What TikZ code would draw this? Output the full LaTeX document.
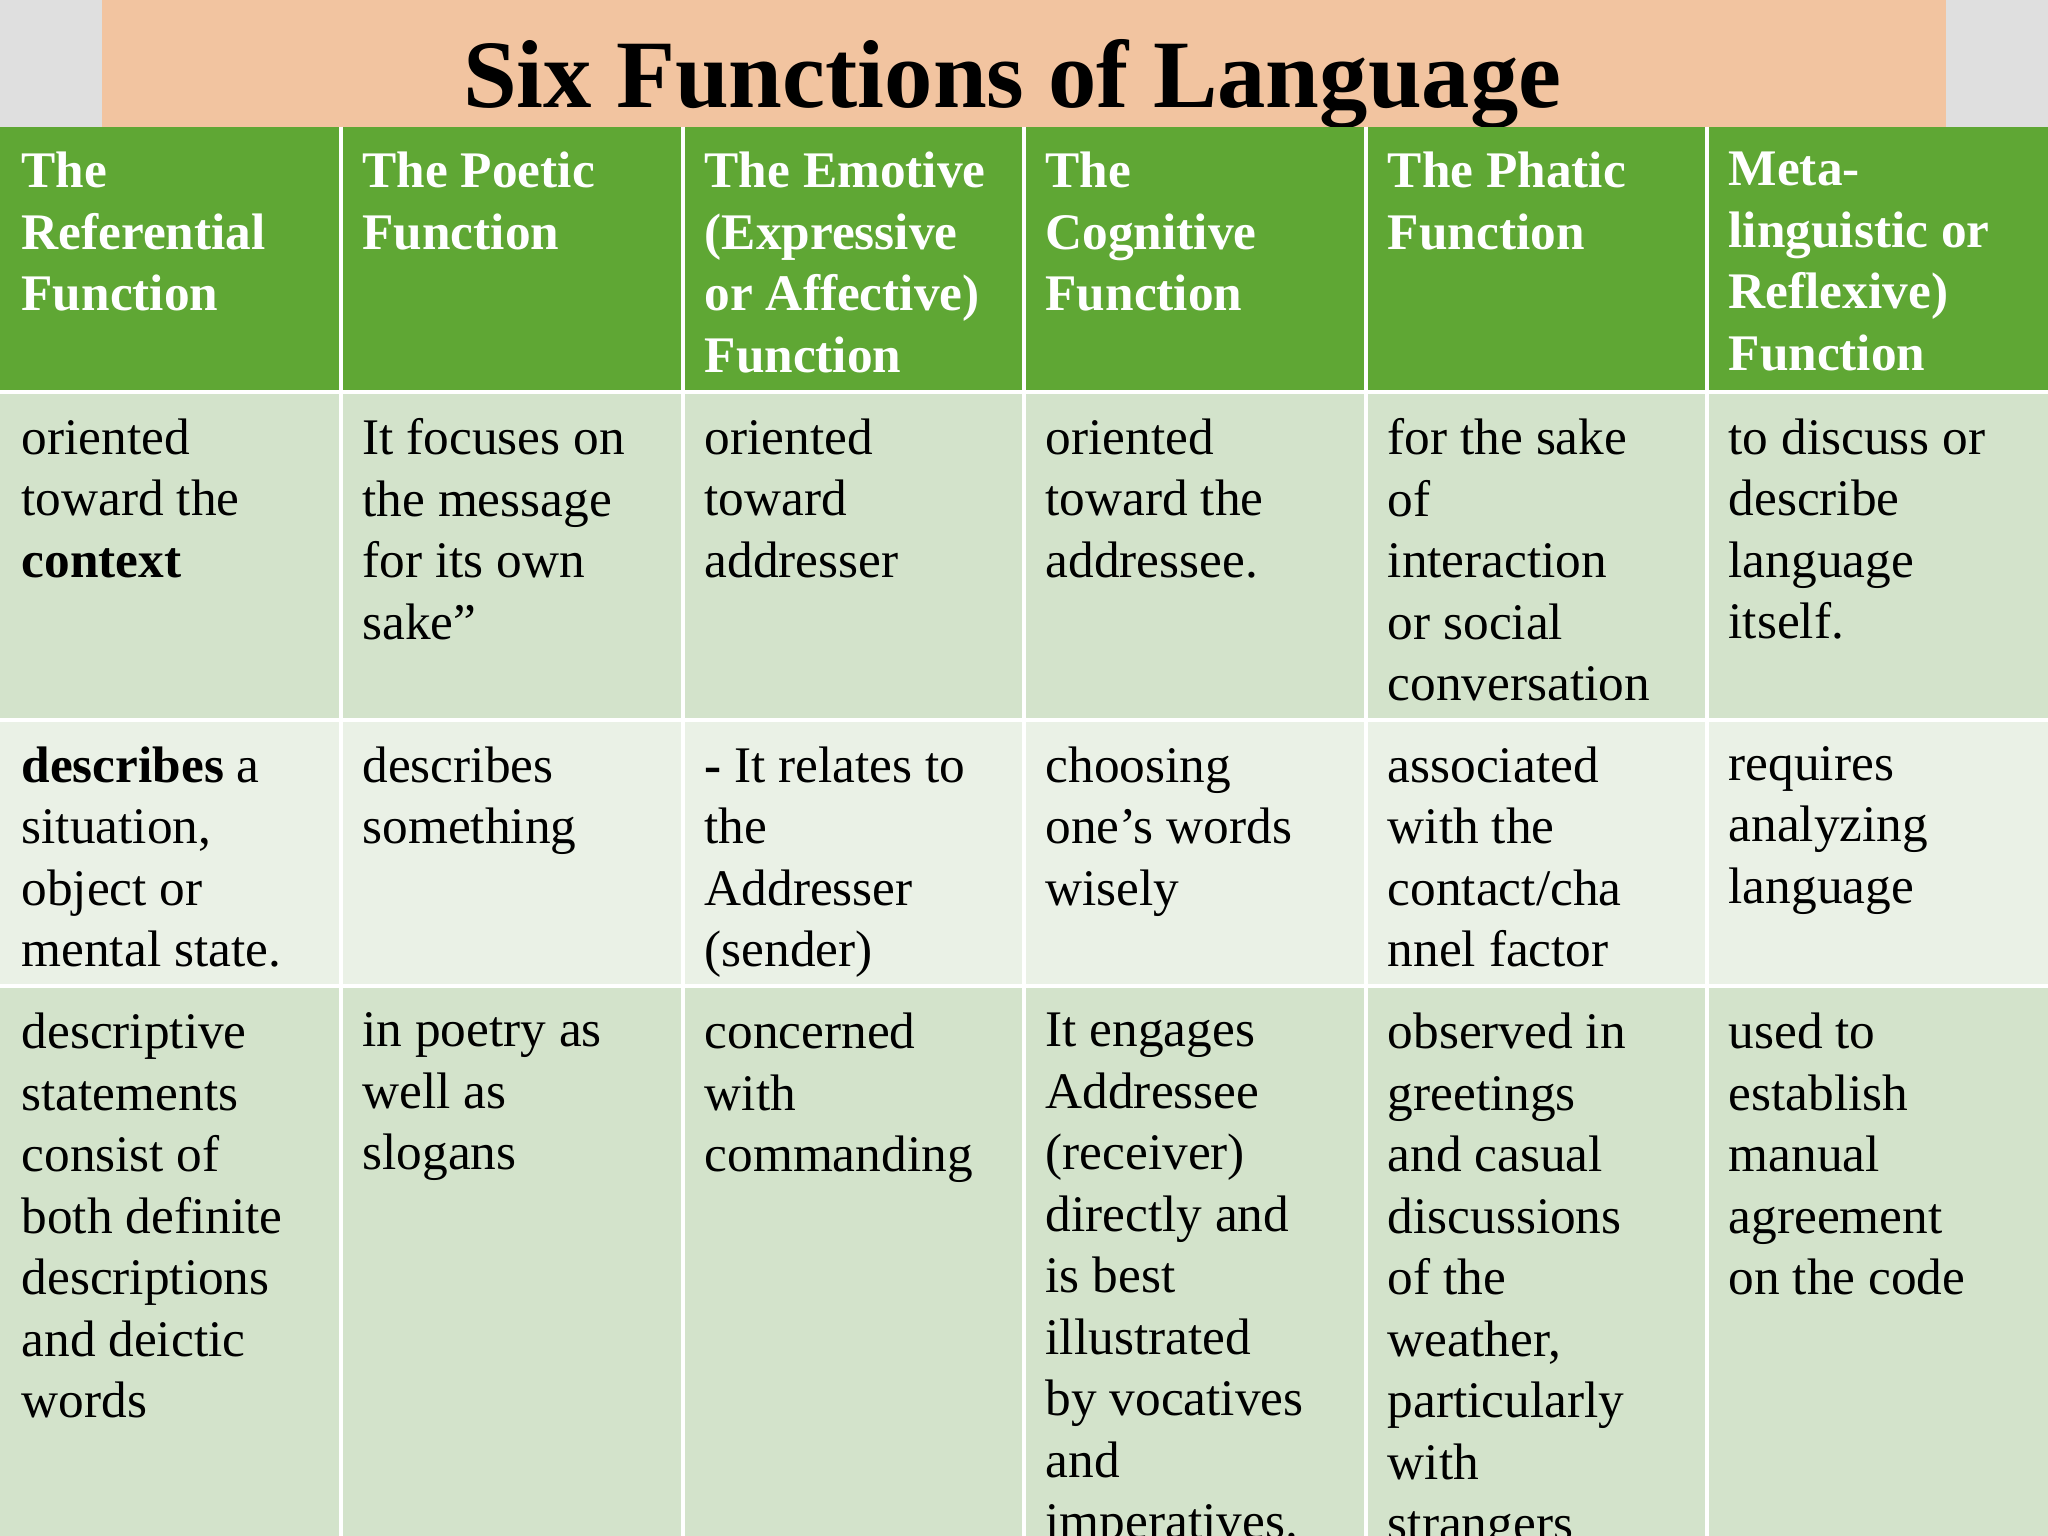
\documentclass[tikz,border=0pt]{standalone}
\usepackage{fontspec}
\setmainfont{Liberation Serif}
\begin{document}
\begin{tikzpicture}[x=0.013061cm,y=-0.013061cm,
  cell/.style={anchor=north west,inner sep=0pt,align=left,font=\fontsize{14.6}{17.5}\selectfont},
  hcell/.style={cell,text=white,font=\fontsize{14.6}{17.5}\selectfont\bfseries},
  sep/.style={draw=white,line width=1.2pt}]
\useasboundingbox (0,0) rectangle (1568,1176);
\clip (0,0) rectangle (1568,1176);
\fill[gray!25] (0,0) rectangle (1568,97);
\fill[fill={rgb,255:red,242;green,196;blue,160}] (78,0) rectangle (1490,97);
\node[font=\fontsize{27.5}{32}\selectfont\bfseries,anchor=base] (title) at (775,82) {Six Functions of Language};
\definecolor{hg}{RGB}{95,167,52}
\definecolor{la}{RGB}{211,227,203}
\definecolor{lb}{RGB}{234,241,230}
\fill[hg] (0,97) rectangle (1568,300);
\fill[la] (0,300) rectangle (1568,551);
\fill[lb] (0,551) rectangle (1568,755);
\fill[la] (0,755) rectangle (1568,1176);
\foreach \x in {261,523,784,1046,1307} \draw[sep] (\x,97) -- (\x,1176);
\foreach \y in {300,551,755} \draw[sep] (0,\y) -- (1568,\y);
\foreach \c/\x in {1/16,2/277,3/539,4/800,5/1062,6/1323}{\coordinate (h\c) at (\x,116);\coordinate (a\c) at (\x,320);\coordinate (b\c) at (\x,571);\coordinate (d\c) at (\x,775);}
\node[hcell] (H1) at (h1) {The\\Referential\\Function};
\node[hcell] (H2) at (h2) {The Poetic\\Function};
\node[hcell] (H3) at (h3) {The Emotive\\(Expressive\\or Affective)\\Function};
\node[hcell] (H4) at (h4) {The\\Cognitive\\Function};
\node[hcell] (H5) at (h5) {The Phatic\\Function};
\node[hcell] (H6) at (h6) {Meta-\\linguistic or\\Reflexive)\\Function};
\node[cell] (A1) at (a1) {oriented\\toward the\\\textbf{context}};
\node[cell] (A2) at (a2) {It focuses on\\the message\\for its own\\sake\char"22};
\node[cell] (A3) at (a3) {oriented\\toward\\addresser};
\node[cell] (A4) at (a4) {oriented\\toward the\\addressee.};
\node[cell] (A5) at (a5) {for the sake\\of\\interaction\\or social\\conversation};
\node[cell] (A6) at (a6) {to discuss or\\describe\\language\\itself.};
\node[cell] (B1) at (b1) {\textbf{describes} a\\situation,\\object or\\mental state.};
\node[cell] (B2) at (b2) {describes\\something};
\node[cell] (B3) at (b3) {\textbf{-} It relates to\\the\\Addresser\\(sender)};
\node[cell] (B4) at (b4) {choosing\\one’s words\\wisely};
\node[cell] (B5) at (b5) {associated\\with the\\contact/cha\\nnel factor};
\node[cell] (B6) at (b6) {requires\\analyzing\\language};
\node[cell] (D1) at (d1) {descriptive\\statements\\consist of\\both definite\\descriptions\\and deictic\\words};
\node[cell] (D2) at (d2) {in poetry as\\well as\\slogans};
\node[cell] (D3) at (d3) {concerned\\with\\commanding};
\node[cell] (D4) at (d4) {It engages\\Addressee\\(receiver)\\directly and\\is best\\illustrated\\by vocatives\\and\\imperatives.};
\node[cell] (D5) at (d5) {observed in\\greetings\\and casual\\discussions\\of the\\weather,\\particularly\\with\\strangers};
\node[cell] (D6) at (d6) {used to\\establish\\manual\\agreement\\on the code};
\end{tikzpicture}
\end{document}
